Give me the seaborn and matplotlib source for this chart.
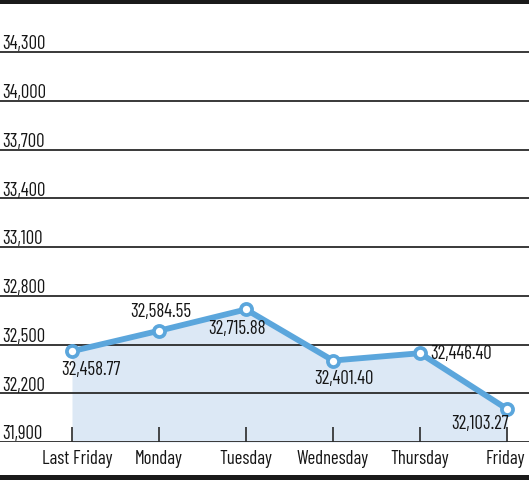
import numpy as np
import pandas as pd
import matplotlib
matplotlib.use("Agg")
import matplotlib.pyplot as plt
from matplotlib.patches import Rectangle
from matplotlib.transforms import ScaledTranslation
import seaborn as sns

days = ["Last Friday", "Monday", "Tuesday", "Wednesday", "Thursday", "Friday"]
closes = [32458.77, 32584.55, 32715.88, 32401.40, 32446.40, 32103.27]
close_labels = ["32,458.77", "32,584.55", "32,715.88", "32,401.40", "32,446.40", "32,103.27"]
y_ticks = [31900, 32200, 32500, 32800, 33100, 33400, 33700, 34000, 34300]

# label offsets in pixels relative to each point
label_offsets = [(19, -19), (2, 19), (-9, -20), (11, -18), (41, -1), (-27, -15)]
# small horizontal nudges (px) for the day labels
day_nudges = [5, 0, 0, 0, 0, -2]

sns.set_style("white")
plt.rcParams['font.family'] = ['Barlow Condensed', 'DejaVu Sans']

line_color = "#5ba6dc"
fill_color = "#dce8f5"
grid_color = "#2a2a2a"
text_color = "#151515"
fs = 13.5

df = pd.DataFrame({"day": days, "close": closes, "pos": np.arange(len(days))})

fig = plt.figure(figsize=(5.29, 4.80), dpi=100)
ax = fig.add_axes([0, (480 - 442) / 480, 1, (442 - 5) / 480])

ymin = 31900
ymax = ymin + (442 - 5) / 0.1625
ax.set_ylim(ymin, ymax)
ax.set_xlim(-72 / 87, 5 + 22 / 87)

for v in y_ticks:
    ax.axhline(v, color=grid_color, lw=1.3, zorder=1)
    ax.text(0.004, v + 16, f"{v:,}", transform=ax.get_yaxis_transform(),
            ha="left", va="baseline", fontsize=fs, color=text_color)

ax.fill_between(df["pos"], df["close"], ymin, color=fill_color, lw=0, zorder=0)
sns.lineplot(data=df, x="pos", y="close", ax=ax, color=line_color, lw=4.2,
             marker="o", markersize=8, markerfacecolor="white",
             markeredgecolor=line_color, markeredgewidth=2.7, zorder=3)

for x, v, lab, (dx, dy) in zip(df["pos"], closes, close_labels, label_offsets):
    ax.annotate(lab, (x, v), xytext=(dx, dy), textcoords="offset pixels",
                ha="center", va="center", fontsize=fs, color=text_color, zorder=4)

ax.set_yticks([])
ax.set_xticks(df["pos"])
ax.set_xticklabels(days, fontsize=fs, color=text_color)
ax.tick_params(axis="x", direction="in", length=11, width=1.2, color=grid_color, pad=6, bottom=True)
for lbl, nx in zip(ax.get_xticklabels(), day_nudges):
    lbl.set_transform(lbl.get_transform() + ScaledTranslation(nx / 100, 0, fig.dpi_scale_trans))
ax.set_xlabel("")
ax.set_ylabel("")
for s in ax.spines.values():
    s.set_visible(False)

fig.add_artist(Rectangle((0, 1 - 4 / 480), 1, 4 / 480, transform=fig.transFigure,
                         color="#1a1a1a", lw=0))
fig.add_artist(Rectangle((0, 0), 1, 5 / 480, transform=fig.transFigure,
                         color="#1a1a1a", lw=0))

fig.savefig("out.png", dpi=100)
